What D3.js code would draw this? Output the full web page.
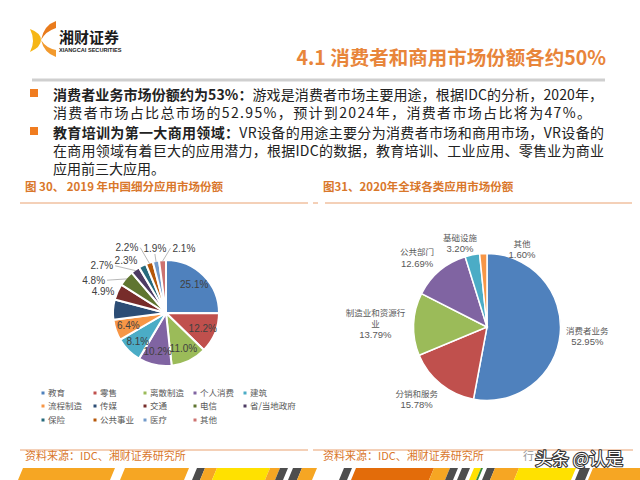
<!DOCTYPE html>
<html>
<head>
<meta charset="utf-8">
<script src="https://cdn.jsdelivr.net/npm/d3@7"></script>
<style>
  html, body { margin: 0; padding: 0; background: #fff; }
  svg { display: block; font-family: "Noto Sans CJK SC", sans-serif; }
</style>
</head>
<body>
<svg id="page" width="640" height="480"></svg>
<script>
// ---- data: 2019 China segment shares (left pie) ----
const cnCategories = ['教育', '零售', '离散制造', '个人消费', '建筑', '流程制造', '传媒', '交通', '电信', '省/当地政府', '保险', '公共事业', '医疗', '其他'];
const cnValues = [25.1, 12.2, 11.0, 10.2, 8.1, 6.4, 6.1, 4.9, 4.8, 2.7, 2.3, 2.2, 1.9, 2.1];
const cnColors = ['#4F81BD', '#C0504D', '#9BBB59', '#8064A2', '#4BACC6', '#F79646', '#2C4D75', '#772C2A', '#5F7530', '#4D3B62', '#276A7C', '#B65708', '#729ACA', '#CD7371'];

// ---- data: 2020 global application shares (right pie) ----
const wwCategories = ['消费者业务', '分销和服务', '制造业和资源行业', '公共部门', '基础设施', '其他'];
const wwValues = [52.95, 15.78, 13.79, 12.69, 3.20, 1.60];
const wwColors = ['#4F81BD', '#C0504D', '#9BBB59', '#8064A2', '#4BACC6', '#F79646'];

const svg = d3.select('#page');
const orange = '#E8853A';

// ---- header ----
const logo = svg.append('g');
logo.append('path').attr('d', 'M56,21 Q44,25 41,40 Q46,31 56,28 Z').attr('fill', '#E97B1C');
logo.append('path').attr('d', 'M41,40 Q44,53 56,57 L56,50 Q46,48 41,40 Z').attr('fill', '#F29A2E');
logo.append('path').attr('d', 'M30,29 Q41,33 41,40 Q41,47 30,52 Q36,41 30,29 Z').attr('fill', '#F6B616');
logo.append('text').attr('x', 59).attr('y', 43).attr('font-size', 15).attr('font-weight', 'bold')
  .attr('fill', '#1a1a1a').text('湘财证券');
logo.append('text').attr('x', 59).attr('y', 52).attr('font-size', 5.6).attr('font-weight', 'bold')
  .attr('font-family', 'Liberation Sans, Arial').attr('fill', '#222').text('XIANGCAI SECURITIES');

svg.append('text').attr('x', 606).attr('y', 65).attr('text-anchor', 'end')
  .attr('font-size', 19.5).attr('font-weight', 'bold').attr('fill', orange)
  .text('4.1 消费者和商用市场份额各约50%');
svg.append('line').attr('x1', 32).attr('x2', 605).attr('y1', 80).attr('y2', 80)
  .attr('stroke', '#CFCFCF').attr('stroke-width', 3);

// ---- bullets ----
const bulletLines = [
  { y: 100, bold: '消费者业务市场份额约为53%：', rest: '游戏是消费者市场主要用途，根据IDC的分析，2020年，', w: 550 },
  { y: 118, bold: '', rest: '消费者市场占比总市场的52.95%，预计到2024年，消费者市场占比将为47%。', w: 538 },
  { y: 138, bold: '教育培训为第一大商用领域：', rest: 'VR设备的用途主要分为消费者市场和商用市场，VR设备的', w: 551 },
  { y: 156, bold: '', rest: '在商用领域有着巨大的应用潜力，根据IDC的数据，教育培训、工业应用、零售业为商业', w: 551 },
  { y: 174, bold: '', rest: '应用前三大应用。', w: null }
];
bulletLines.forEach(l => {
  const t = svg.append('text').attr('x', 53).attr('y', l.y).attr('font-size', 14).attr('fill', '#222');
  if (l.w) t.attr('textLength', l.w).attr('lengthAdjust', 'spacing');
  if (l.bold) t.append('tspan').attr('font-weight', 'bold').text(l.bold);
  t.append('tspan').text(l.rest);
  if (l.bold) {
    svg.append('rect').attr('x', 30).attr('y', l.y - 11).attr('width', 8).attr('height', 8).attr('fill', '#F07C20');
  }
});

// ---- captions ----
svg.append('text').attr('x', 25).attr('y', 191).attr('font-size', 11.5).attr('font-weight', 'bold')
  .attr('fill', '#D9772B').text('图 30、 2019 年中国细分应用市场份额');
svg.append('text').attr('x', 323).attr('y', 191).attr('font-size', 11.5).attr('font-weight', 'bold')
  .attr('fill', '#D9772B').text('图31、2020年全球各类应用市场份额');
[[20, 308], [313, 318], [325, 632]].forEach(([a, b]) => {
  svg.append('line').attr('x1', a).attr('x2', b).attr('y1', 203).attr('y2', 203)
    .attr('stroke', '#E9A170').attr('stroke-width', 1);
});

// ---- left pie ----
const pie = d3.pie().sort(null).value(d => d.v);
const cnData = pie(cnCategories.map((c, i) => ({ c, v: cnValues[i], col: cnColors[i] })));
const cnR = 53;
const cnG = svg.append('g').attr('transform', 'translate(166,313)');
const cnArc = d3.arc().innerRadius(0).outerRadius(cnR);
cnG.selectAll('path').data(cnData).enter().append('path')
  .attr('d', cnArc).attr('fill', d => d.data.col)
  .attr('stroke', '#fff').attr('stroke-width', 2).attr('stroke-linejoin', 'round');

const inArc = d3.arc().innerRadius(cnR * 0.75).outerRadius(cnR * 0.75);
cnG.selectAll('text.in').data(cnData.filter(d => d.data.v > 6.2)).enter().append('text')
  .attr('class', 'in')
  .attr('transform', d => `translate(${inArc.centroid(d)})`)
  .attr('text-anchor', 'middle').attr('dy', '0.35em')
  .attr('font-family', 'Liberation Sans, Arial').attr('font-size', 10).attr('fill', '#404040')
  .text(d => d.data.v.toFixed(1) + '%');

// outside label placement relative to the slice edge point
const cnOuter = {
  '交通': { a: 'end', dx: -3, dy: 0 },
  '电信': { a: 'end', dx: -21, dy: 2 },
  '省/当地政府': { a: 'end', dx: -22, dy: -4 },
  '保险': { a: 'end', dx: -5, dy: -5 },
  '公共事业': { a: 'end', dx: -11, dy: -15 },
  '医疗': { a: 'middle', dx: -1, dy: -12 },
  '其他': { a: 'start', dx: 10, dy: -12 }
};
const edge = d => {
  const a = (d.startAngle + d.endAngle) / 2;
  return [Math.sin(a) * cnR, -Math.cos(a) * cnR];
};
cnData.filter(d => cnOuter[d.data.c]).forEach(d => {
  const o = cnOuter[d.data.c];
  const [ex, ey] = edge(d);
  const tx = ex + o.dx, ty = ey + o.dy;
  const gap = o.a === 'end' ? 2 : (o.a === 'start' ? -2 : 0);
  const ly = o.a === 'middle' ? ty + 5 : ty;
  if (Math.hypot(o.dx, o.dy) > 8) {
    cnG.append('polyline')
      .attr('points', `${tx + gap},${ly} ${ex * 0.98},${ey * 0.98}`)
      .attr('fill', 'none').attr('stroke', '#A6A6A6').attr('stroke-width', 0.8);
  }
  cnG.append('text').attr('x', tx).attr('y', ty).attr('dy', '0.35em')
    .attr('text-anchor', o.a)
    .attr('font-family', 'Liberation Sans, Arial').attr('font-size', 10).attr('fill', '#404040')
    .text(d.data.v.toFixed(1) + '%');
});

// legend
const legCols = [43, 95, 145, 195, 245];
const legRows = [393, 406, 420];
cnCategories.forEach((c, i) => {
  const x = legCols[i % 5], y = legRows[Math.floor(i / 5)];
  svg.append('rect').attr('x', x - 1.5).attr('y', y - 1.5).attr('width', 3).attr('height', 3).attr('fill', cnColors[i]);
  svg.append('text').attr('x', x + 5).attr('y', y).attr('dy', '0.35em')
    .attr('font-size', 8.5).attr('fill', '#595959').text(c);
});

// ---- right pie ----
const wwData = pie(wwCategories.map((c, i) => ({ c, v: wwValues[i], col: wwColors[i] })));
const wwR = 73.5;
const wwG = svg.append('g').attr('transform', 'translate(487,327)');
wwG.selectAll('path').data(wwData).enter().append('path')
  .attr('d', d3.arc().innerRadius(0).outerRadius(wwR))
  .attr('fill', d => d.data.col).attr('stroke', '#fff').attr('stroke-width', 1.5);

const wwNudge = {
  '消费者业务': [0, 0], '分销和服务': [-7, -6], '制造业和资源行业': [-11, 1],
  '公共部门': [-5, 8], '基础设施': [-7, 15], '其他': [40, 23]
};
const outArc = d3.arc().innerRadius(wwR * 1.37).outerRadius(wwR * 1.37);
wwData.forEach(d => {
  const [px, py] = outArc.centroid(d);
  const [nx, ny] = wwNudge[d.data.c];
  const name = d.data.c;
  const nameLines = name.length > 6 ? [name.slice(0, 7), name.slice(7)] : [name];
  const lines = nameLines.map(t => ({ t, num: false })).concat([{ t: d.data.v.toFixed(2) + '%', num: true }]);
  const lh = 11;
  const y0 = py + ny - (lines.length - 1) * lh / 2;
  lines.forEach((l, k) => {
    wwG.append('text').attr('x', px + nx).attr('y', y0 + k * lh).attr('dy', '0.35em')
      .attr('text-anchor', 'middle')
      .attr('font-family', l.num ? 'Liberation Sans, Arial' : 'Noto Sans CJK SC')
      .attr('font-size', l.num ? 9.5 : 8.5).attr('fill', '#595959').text(l.t);
  });
});

// ---- sources ----
[[20, 308], [313, 318], [318, 633]].forEach(([a, b]) => {
  svg.append('line').attr('x1', a).attr('x2', b).attr('y1', 450).attr('y2', 450)
    .attr('stroke', '#E9A170').attr('stroke-width', 1);
});
svg.append('text').attr('x', 25).attr('y', 460).attr('font-size', 11).attr('fill', '#D9772B')
  .text('资料来源：IDC、湘财证券研究所');
svg.append('text').attr('x', 323).attr('y', 460).attr('font-size', 11).attr('fill', '#D9772B')
  .text('资料来源：IDC、湘财证券研究所');
svg.append('text').attr('x', 523).attr('y', 460).attr('font-size', 11).attr('fill', '#9a9a9a')
  .text('行业');

// ---- bottom banner ----
const bandTop = 468, bandBot = 480, slant = 5;
const stripes = [
  [18, 110, '#F6A623'], [120, 184, '#F6A623'], [192, 200, '#4D4D4D'], [200, 212, '#F6A623'],
  [212, 265, '#FFE100'], [265, 275, '#F6A623'], [275, 283, '#4D4D4D'], [288, 297, '#4D4D4D'],
  [297, 312, '#F6A623'], [339, 347, '#4D4D4D'], [351, 429, '#E36C0A'], [429, 445, '#F6A623'],
  [445, 453, '#4D4D4D'], [457, 465, '#4D4D4D'], [469, 476, '#FFE100'], [476, 478, '#3C8C3C'],
  [482, 490, '#4D4D4D'], [490, 514, '#F6A623'], [514, 571, '#FFE100'], [575, 585, '#4D4D4D'],
  [588, 645, '#F6A623']
];
stripes.forEach(([a, b, c]) => {
  svg.append('polygon')
    .attr('points', `${a + slant},${bandTop} ${b + slant},${bandTop} ${b},${bandBot} ${a},${bandBot}`)
    .attr('fill', c);
});

// ---- watermark ----
svg.append('text').attr('x', 535).attr('y', 465).attr('font-size', 17)
  .attr('fill', '#fff').attr('stroke', '#333').attr('stroke-width', 2.2)
  .attr('paint-order', 'stroke').attr('stroke-linejoin', 'round')
  .text('头条 @认是');
</script>
</body>
</html>
